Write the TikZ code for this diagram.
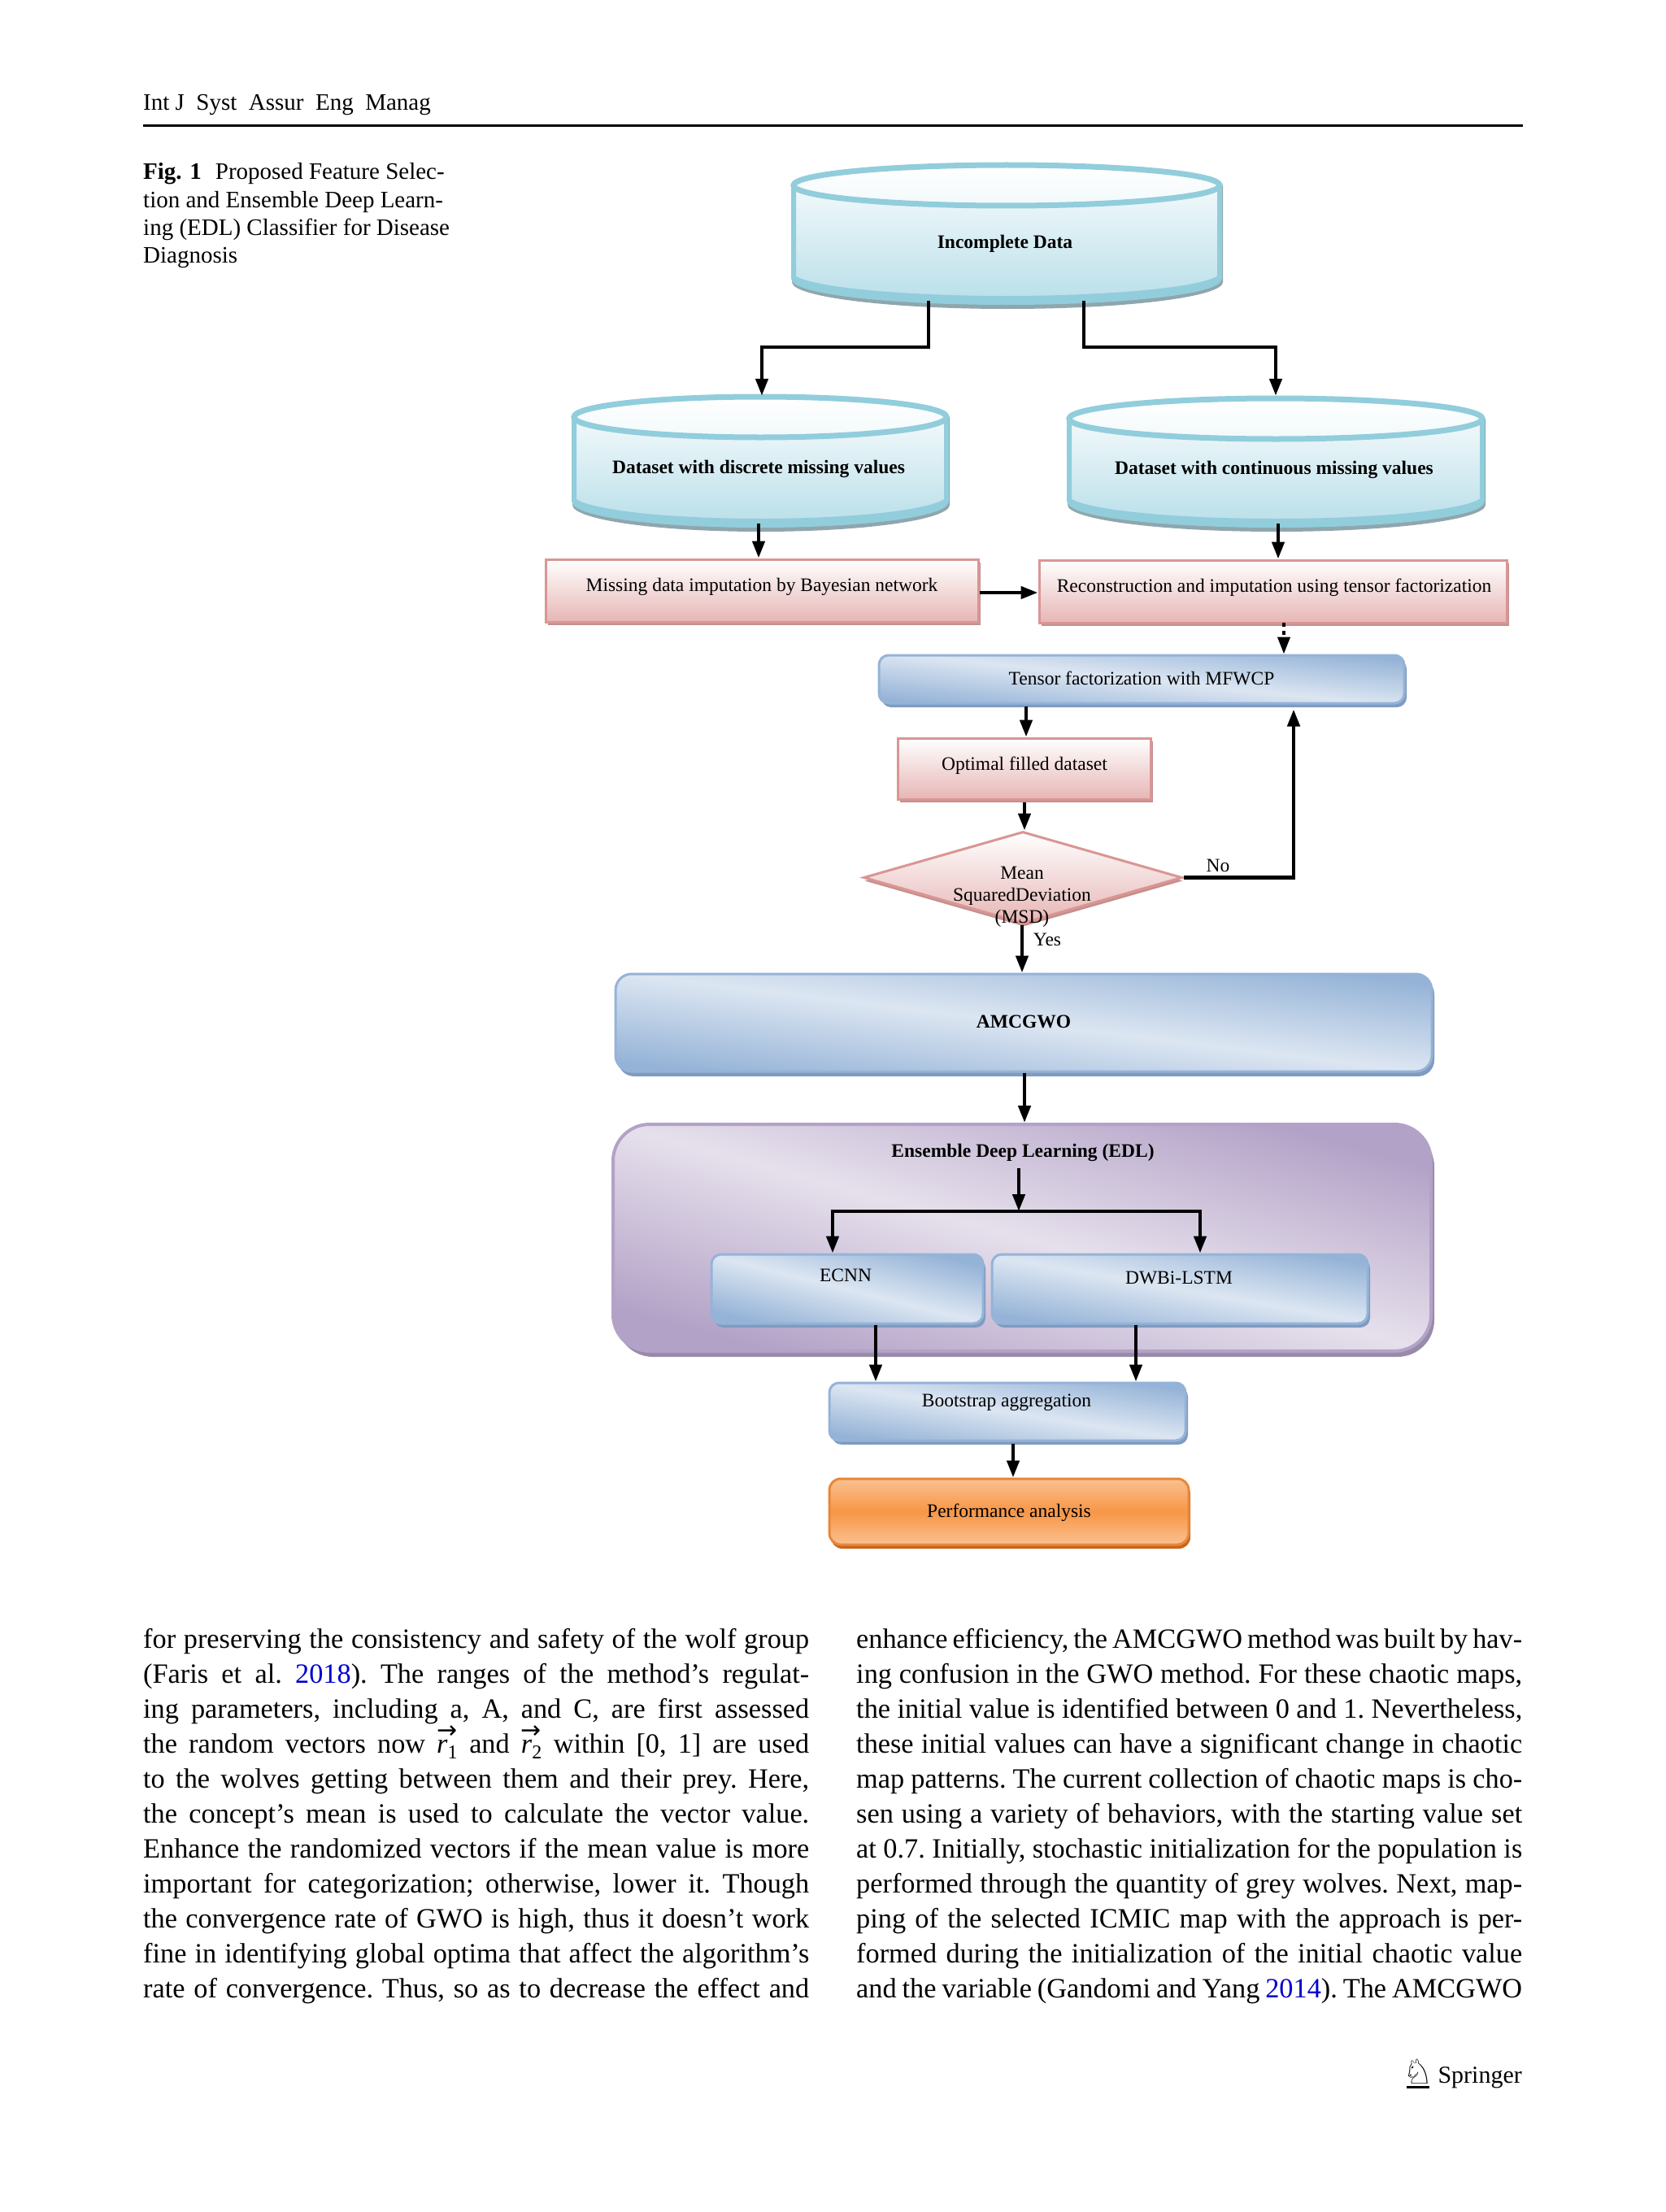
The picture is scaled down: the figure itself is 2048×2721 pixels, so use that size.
\documentclass[tikz,border=0pt]{standalone}
\usepackage{fontspec}
\setmainfont{Liberation Serif}
\newfontfamily\symbolfont{DejaVu Sans}
\usetikzlibrary{arrows.meta, shapes.geometric, shadows}

\definecolor{cylline}{HTML}{92CDDC}
\definecolor{cyltop}{HTML}{F2F9FB}
\definecolor{cylbot}{HTML}{B9DFE9}
\definecolor{cylgray}{HTML}{8FA6AD}
\definecolor{pinkline}{HTML}{D99694}
\definecolor{pinkbot}{HTML}{E6B6B5}
\definecolor{pinkdark}{HTML}{C58F8E}
\definecolor{blueline}{HTML}{95B3D7}
\definecolor{bluelight}{HTML}{DCE6F2}
\definecolor{bluedark}{HTML}{7F9BC1}
\definecolor{purpline}{HTML}{B3A2C7}
\definecolor{purplight}{HTML}{E6E0EC}
\definecolor{orangeline}{HTML}{E8873A}
\definecolor{orangemid}{HTML}{F79646}
\definecolor{orangetop}{HTML}{FAC090}
\definecolor{orangedark}{HTML}{C8651B}
\definecolor{linkblue}{HTML}{0000CC}

\tikzset{
  >={Triangle[length=21pt,width=15pt]},
  flow/.style={line width=4.5pt},
  pinkbox/.style={rectangle, draw=pinkline, line width=3pt, top color=white, bottom color=pinkbot,
    drop shadow={shadow xshift=3pt, shadow yshift=-4pt, fill=pinkdark, opacity=1}},
  bluebox/.style={rectangle, rounded corners=12pt, draw=blueline, line width=3pt,
    top color=blueline, bottom color=blueline, middle color=bluelight, shading angle=-10,
    drop shadow={shadow xshift=3pt, shadow yshift=-5pt, fill=bluedark, opacity=1}},
  purplebox/.style={rectangle, rounded corners=45pt, draw=purpline, line width=4pt,
    top color=purpline, bottom color=purpline, middle color=purplight, shading angle=-15.5,
    drop shadow={shadow xshift=4pt, shadow yshift=-7pt, fill=purpline!85!black, opacity=1}},
  orangebox/.style={rectangle, rounded corners=14pt, draw=orangeline, line width=3pt,
    top color=orangetop, bottom color=orangetop, middle color=orangemid,
    drop shadow={shadow xshift=2pt, shadow yshift=-5pt, fill=orangedark, opacity=1}},
  boxtext/.style={inner sep=0pt, yshift=-1.5pt, align=center, font=\fontsize{23.5}{27}\selectfont},
  boldtext/.style={boxtext, font=\fontsize{23.5}{27}\selectfont\bfseries},
  bodyline/.style={anchor=base west, inner sep=0pt, font=\fontsize{34.3}{43}\selectfont\frenchspacing},
  captionline/.style={anchor=base west, inner sep=0pt, font=\fontsize{29}{34}\selectfont},
}

\newcommand{\vecr}[1]{\makebox[0pt][l]{\raisebox{.52em}{\symbolfont\fontsize{30}{30}\selectfont →}}\textit{r}\textsubscript{#1}}

\newcommand{\datacyl}[5]{%
  \pgfmathsetmacro{\cylrx}{(#3-#2)/2}
  \pgfmathsetmacro{\cylcx}{(#3+#2)/2}
  \pgfmathsetmacro{\cylcy}{#4-29}
  \pgfmathsetmacro{\cylby}{#5+33}
  \fill[cylgray] (#2+1, \cylcy) -- (#2+1, \cylby-4) arc[start angle=180, end angle=360, x radius=\cylrx, y radius=33] -- (#3+1, \cylcy) -- cycle;
  \path[draw=cylline, line width=6pt, top color=cyltop, bottom color=cylbot] (#2+3, \cylcy) -- (#2+3, \cylby+1) arc[start angle=180, end angle=360, x radius=\cylrx-3, y radius=30] -- (#3-3, \cylcy) -- cycle;
  \fill[cylline] (#2+1, \cylby+1) arc[start angle=180, end angle=360, x radius=\cylrx-1, y radius=30] -- (#3-1, \cylby+9) arc[start angle=360, end angle=180, x radius=\cylrx-1, y radius=30] -- cycle;
  \path[draw=cylline, line width=7pt, top color=white, bottom color=cyltop] (\cylcx, \cylcy) ellipse [x radius=\cylrx-3, y radius=25];
  \pgfmathsetmacro{\cylh}{#4-#5-6}
  \pgfmathsetmacro{\cylw}{#3-#2}
  \node [inner sep=0pt, minimum width=\cylw, minimum height=\cylh] (#1) at (\cylcx, {(#4+#5+6)/2}) {};
}

\begin{document}
\begin{tikzpicture}[x=1pt, y=1pt]

\useasboundingbox (0, 0) rectangle (2048, -2721);

\node [anchor=base west, inner sep=0pt, font=\fontsize{29}{34}\selectfont] (header) at (176, -136) {Int J\ \ Syst\ \ Assur\ \ Eng\ \ Manag};
\fill (176, -153) rectangle (1873, -156.5);

\foreach \txt [count=\n from 0] in {{\textbf{Fig. 1}\hspace{17pt}Proposed Feature Selec-}, {tion and Ensemble Deep Learn-}, {ing (EDL) Classifier for Disease}, {Diagnosis}}
  \node [captionline] (caption\n) at (176, {-221-34.3*\n}) {\txt};

\datacyl{incomplete}{973}{1503}{-199}{-376}
\datacyl{discrete}{703}{1167}{-484}{-650}
\datacyl{continuous}{1312}{1826}{-486}{-650}

\node [pinkbox, minimum width=532, minimum height=77] (bayes) at (937, -726.5) {};
\node [pinkbox, minimum width=575, minimum height=77] (recon) at (1565.5, -727.5) {};
\node [bluebox, shading angle=-6, minimum width=646, minimum height=59] (tensor) at (1404, -835.5) {};
\node [pinkbox, minimum width=311, minimum height=75] (optimal) at (1259.5, -945.5) {};
\node [diamond, inner sep=0pt, draw=pinkline, line width=3pt, top color=white, bottom color=pinkbot, minimum width=392, minimum height=113,
  drop shadow={shadow xshift=1pt, shadow yshift=-4pt, fill=pinkdark, opacity=1}] (msd) at (1258, -1079.5) {};
\node [bluebox, shading angle=-7, rounded corners=20pt, minimum width=1004, minimum height=120, drop shadow={shadow xshift=3pt, shadow yshift=-6pt, fill=bluedark, opacity=1}] (amcgwo) at (1259, -1258) {};
\node [purplebox, minimum width=1006, minimum height=279] (edl) at (1257, -1522.5) {};
\node [bluebox, shading angle=-14, minimum width=334, minimum height=85] (ecnn) at (1042, -1585.5) {};
\node [bluebox, shading angle=-10, minimum width=462, minimum height=85] (dwbi) at (1451, -1585.5) {};
\node [bluebox, shading angle=-9, minimum width=438, minimum height=71] (bootstrap) at (1239, -1736.5) {};
\node [orangebox, minimum width=442, minimum height=81] (perf) at (1241, -1859.5) {};

\node [boldtext] (incompletetext) at (1236, -298) {Incomplete Data};
\node [boldtext] (discretetext) at (933, -575) {Dataset with discrete missing values};
\node [boldtext] (continuoustext) at (1567, -576) {Dataset with continuous missing values};
\node [boxtext] (bayestext) at (937, -720) {Missing data imputation by Bayesian network};
\node [boxtext] (recontext) at (1567, -721) {Reconstruction and imputation using tensor factorization};
\node [boxtext] (tensortext) at (1404, -832.5) {Tensor factorization with MFWCP};
\node [boxtext] (optimaltext) at (1260, -940) {Optimal filled dataset};
\node [boxtext] (msdtext) at (1257, -1101.5) {Mean\\SquaredDeviation\\(MSD)};
\node [boxtext] (notext) at (1498, -1063.5) {No};
\node [boxtext] (yestext) at (1288, -1154.5) {Yes};
\node [boldtext] (amcgwotext) at (1259, -1255.5) {AMCGWO};
\node [boldtext] (edltext) at (1258, -1416) {Ensemble Deep Learning (EDL)};
\node [boxtext] (ecnntext) at (1040, -1567.5) {ECNN};
\node [boxtext] (dwbitext) at (1450, -1570.5) {DWBi-LSTM};
\node [boxtext] (bootstraptext) at (1238, -1723.5) {Bootstrap aggregation};
\node [boxtext] (perftext) at (1241, -1859) {Performance analysis};

\coordinate (edlstart) at (1253, -1437);
\coordinate (edlsplit) at (1253, -1490);

\draw[->, flow] ([xshift=-96pt]incomplete.south) -- ++(0, -57) -| ([xshift=2pt, yshift=-3pt]discrete.north);
\draw[->, flow] ([xshift=95pt]incomplete.south) -- ++(0, -57) -| ([yshift=-1pt]continuous.north);
\draw[->, flow] ([xshift=-2pt]discrete.south) -- ([xshift=-4pt]bayes.north);
\draw[->, flow] ([xshift=3pt]continuous.south) -- ([xshift=6.5pt]recon.north);
\draw[->, flow] ([yshift=-2.5pt]bayes.east) -- ([yshift=-1.5pt]recon.west);
\draw[->, line width=4pt, dash pattern=on 5pt off 5pt] ([xshift=13.5pt, yshift=2pt]recon.south) -- ([xshift=175pt]tensor.north);
\draw[->, flow] ([xshift=-142pt, yshift=-2pt]tensor.south) -- ([xshift=2.5pt]optimal.north);
\draw[->, flow] ([xshift=0.5pt, yshift=-2pt]optimal.south) -- ([xshift=2pt]msd.north);
\draw[->, flow] ([xshift=-1pt]msd.south) -- ([xshift=-2pt]amcgwo.north);
\draw[->, flow] (msd.east) -| ([xshift=187pt, yshift=-6pt]tensor.south);
\draw[->, flow] ([xshift=1pt]amcgwo.south) -- ([xshift=3pt]edl.north);
\draw[->, flow] (edlstart) -- (edlsplit);
\draw[->, flow] (edlsplit) -| ([xshift=-18pt]ecnn.north);
\draw[->, flow] (edlsplit) -| ([xshift=25pt]dwbi.north);
\draw[->, flow] ([xshift=35pt]ecnn.south) -- ([xshift=-162pt]bootstrap.north);
\draw[->, flow] ([xshift=-54pt]dwbi.south) -- ([xshift=158pt]bootstrap.north);
\draw[->, flow] ([xshift=7pt, yshift=-2pt]bootstrap.south) -- ([xshift=5pt]perf.north);

\foreach \txt [count=\n from 0] in {
  {for preserving the consistency and safety of the wolf group},
  {(Faris et al. \textcolor{linkblue}{2018}). The ranges of the method’s regulat-},
  {ing parameters, including a, A, and C, are first assessed},
  {the random vectors now \vecr{1} and \vecr{2} within [0, 1] are used},
  {to the wolves getting between them and their prey. Here,},
  {the concept’s mean is used to calculate the vector value.},
  {Enhance the randomized vectors if the mean value is more},
  {important for categorization; otherwise, lower it. Though},
  {the convergence rate of GWO is high, thus it doesn’t work},
  {fine in identifying global optima that affect the algorithm’s},
  {rate of convergence. Thus, so as to decrease the effect and}}
  \node [bodyline] (left\n) at (176, {-2027-43*\n}) {\hbox to 819pt{\txt}};

\foreach \txt [count=\n from 0] in {
  {enhance efficiency, the AMCGWO method was built by hav-},
  {ing confusion in the GWO method. For these chaotic maps,},
  {the initial value is identified between 0 and 1. Nevertheless,},
  {these initial values can have a significant change in chaotic},
  {map patterns. The current collection of chaotic maps is cho-},
  {sen using a variety of behaviors, with the starting value set},
  {at 0.7. Initially, stochastic initialization for the population is},
  {performed through the quantity of grey wolves. Next, map-},
  {ping of the selected ICMIC map with the approach is per-},
  {formed during the initialization of the initial chaotic value},
  {and the variable (Gandomi and Yang \textcolor{linkblue}{2014}). The AMCGWO}}
  \node [bodyline] (right\n) at (1053, {-2027-43*\n}) {\hbox to 819pt{\txt}};

\node [anchor=base east, inner sep=0pt, font=\fontsize{30}{34}\selectfont] (springer) at (1872, -2562) {Springer};
\node [inner sep=0pt, font=\fontsize{42}{44}\symbolfont] (knight) at (1744, -2548) {♘};
\fill (1730, -2566) rectangle (1758, -2569);

\end{tikzpicture}
\end{document}
